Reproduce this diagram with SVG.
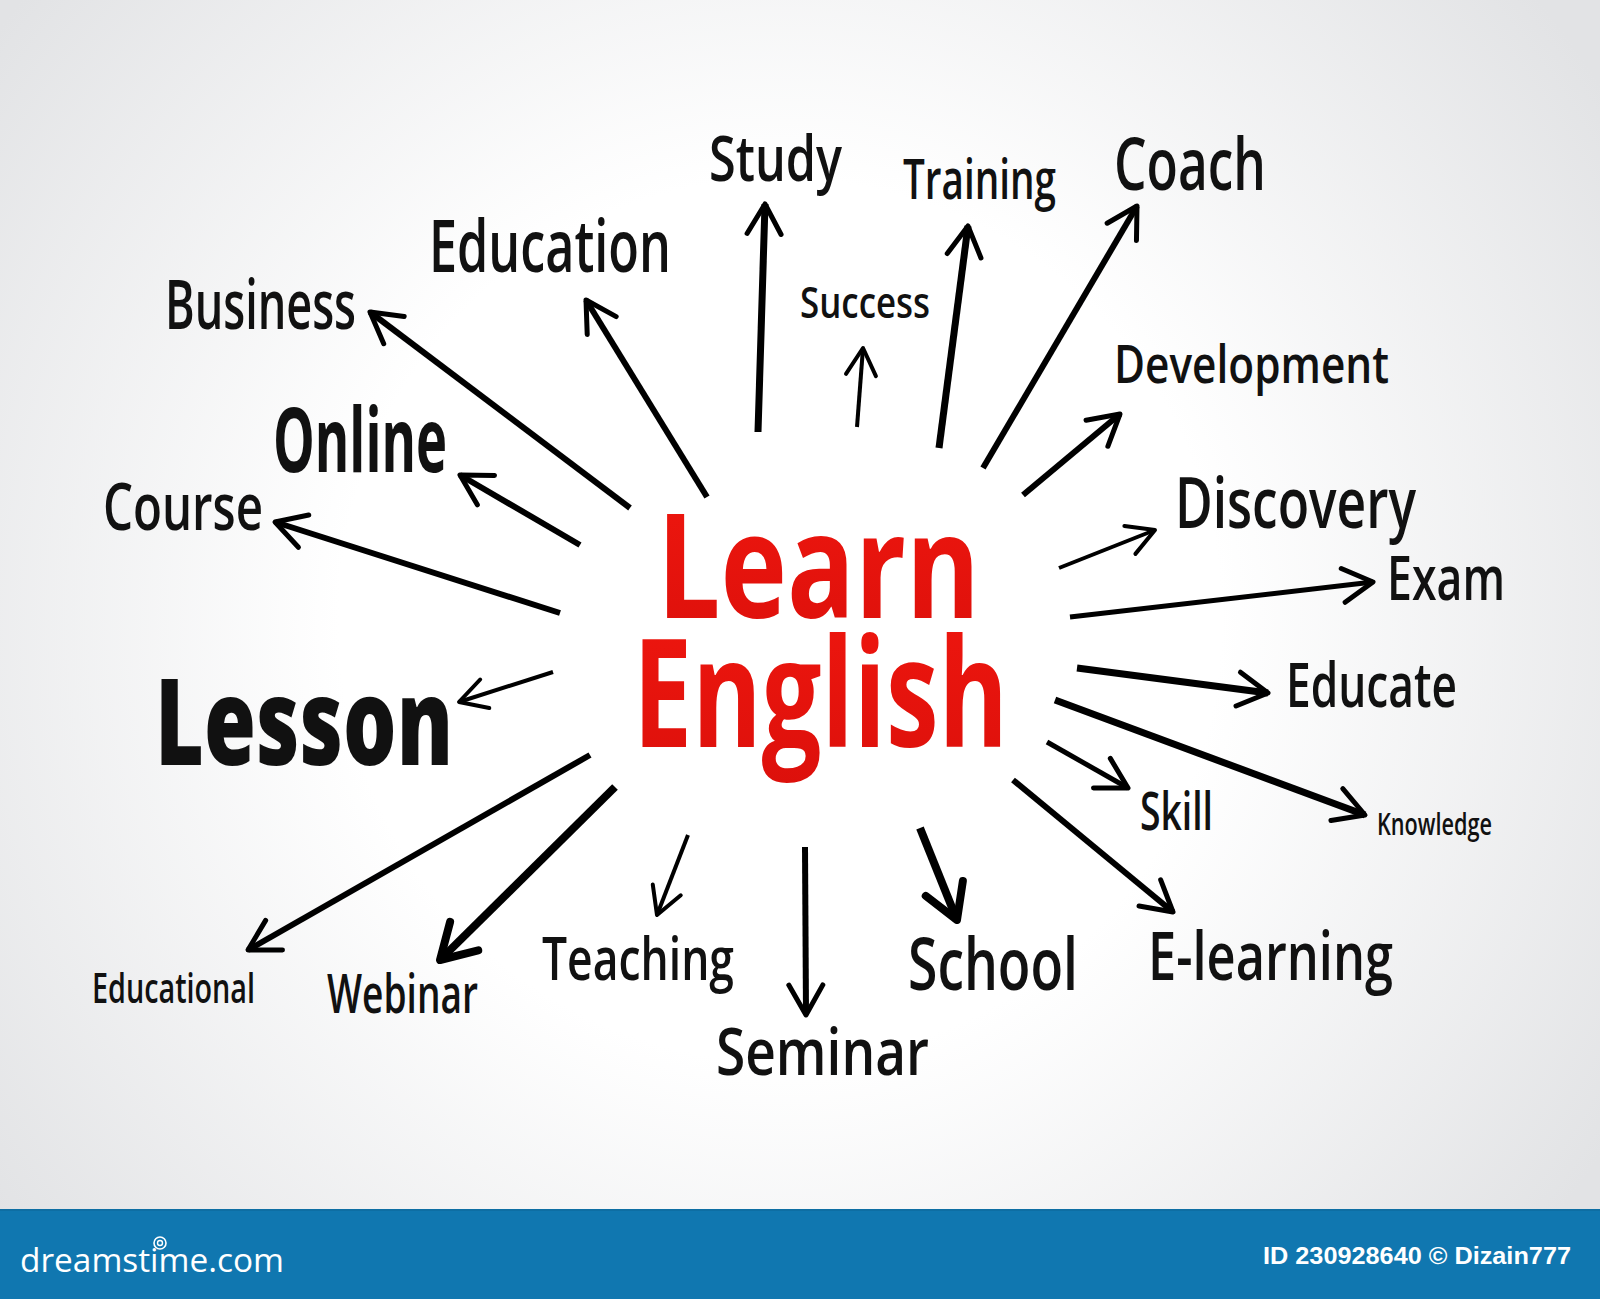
<svg xmlns="http://www.w3.org/2000/svg" width="1600" height="1299" viewBox="0 0 1600 1299">
  <defs>
    <radialGradient id="bg" cx="780" cy="620" r="980" gradientUnits="userSpaceOnUse">
      <stop offset="0" stop-color="#ffffff"/>
      <stop offset="0.45" stop-color="#ffffff"/>
      <stop offset="1" stop-color="#e2e3e5"/>
    </radialGradient>
    <linearGradient id="red" x1="0" y1="0" x2="0" y2="1">
      <stop offset="0" stop-color="#f0170f"/>
      <stop offset="1" stop-color="#dc100b"/>
    </linearGradient>
    <marker id="ah" markerUnits="userSpaceOnUse" orient="auto" refX="0" refY="0" markerWidth="80" markerHeight="80" viewBox="-40 -40 80 80" overflow="visible">
      <path d="M-30,-17 L0,0 L-30,17" fill="none" stroke="#000" stroke-width="5" stroke-linecap="round" stroke-linejoin="round"/>
    </marker>
    <marker id="ahs" markerUnits="userSpaceOnUse" orient="auto" refX="0" refY="0" markerWidth="80" markerHeight="80" viewBox="-40 -40 80 80" overflow="visible">
      <path d="M-27,-15 L0,0 L-27,15" fill="none" stroke="#000" stroke-width="4" stroke-linecap="round" stroke-linejoin="round"/>
    </marker>
    <marker id="ahb" markerUnits="userSpaceOnUse" orient="auto" refX="0" refY="0" markerWidth="80" markerHeight="80" viewBox="-40 -40 80 80" overflow="visible">
      <path d="M-34,-20 L0,0 L-34,20" fill="none" stroke="#000" stroke-width="8" stroke-linecap="round" stroke-linejoin="round"/>
    </marker>
  </defs>
  <style>
    .lbl { font-family: "Open Sans", "DejaVu Sans", sans-serif; font-weight: 600; fill: #111; }
    .heavy { font-weight: 700; }
    .red { font-family: "Open Sans", "DejaVu Sans", sans-serif; font-weight: 700; fill: url(#red); }
    .c { fill: none; stroke: #000; stroke-linecap: butt; marker-end: url(#ah); }
    .w4 { stroke-width: 4; marker-end: url(#ahs); }
    .w5 { stroke-width: 5; }
    .w6 { stroke-width: 6; }
    .w7 { stroke-width: 7; }
    .w8 { stroke-width: 8; marker-end: url(#ahb); }
    .bar { font-family: "Open Sans", "DejaVu Sans", sans-serif; fill: #fff; }
  </style>

  <rect x="0" y="0" width="1600" height="1210" fill="url(#bg)"/>

  <g id="connectors">
    <line class="c w7" x1="758" y1="432" x2="765" y2="204"/>
    <line class="c w4" x1="857" y1="427" x2="863" y2="348"/>
    <line class="c w7" x1="939" y1="448" x2="968" y2="226"/>
    <line class="c w6" x1="983" y1="468" x2="1137" y2="206"/>
    <line class="c w6" x1="1023" y1="495" x2="1120" y2="414"/>
    <line class="c w4" x1="1059" y1="568" x2="1155" y2="530"/>
    <line class="c w5" x1="1070" y1="617" x2="1373" y2="582"/>
    <line class="c w7" x1="1077" y1="668" x2="1268" y2="693"/>
    <line class="c w7" x1="1055" y1="700" x2="1365" y2="815"/>
    <line class="c w5" x1="1047" y1="742" x2="1128" y2="788"/>
    <line class="c w6" x1="1013" y1="780" x2="1173" y2="912"/>
    <line class="c w8" x1="920" y1="828" x2="957" y2="920"/>
    <line class="c w6" x1="805" y1="847" x2="806" y2="1015"/>
    <line class="c w4" x1="688" y1="835" x2="657" y2="915"/>
    <line class="c w8" x1="615" y1="787" x2="440" y2="960"/>
    <line class="c w6" x1="590" y1="755" x2="248" y2="950"/>
    <line class="c w4" x1="553" y1="672" x2="459" y2="702"/>
    <line class="c w6" x1="560" y1="613" x2="275" y2="522"/>
    <line class="c w6" x1="580" y1="545" x2="460" y2="475"/>
    <line class="c w6" x1="630" y1="508" x2="370" y2="312"/>
    <line class="c w6" x1="707" y1="497" x2="586" y2="300"/>
  </g>

  <g id="node-center">
    <text class="red" x="657" y="618" font-size="146" textLength="323" lengthAdjust="spacingAndGlyphs">Learn</text>
    <text class="red" x="633" y="747" font-size="150" textLength="375" lengthAdjust="spacingAndGlyphs">English</text>
  </g>

  <g id="node-study"><text class="lbl" x="709" y="181" font-size="64" textLength="133" lengthAdjust="spacingAndGlyphs">Study</text></g>
  <g id="node-training"><text class="lbl" x="903" y="199" font-size="56" textLength="153" lengthAdjust="spacingAndGlyphs">Training</text></g>
  <g id="node-coach"><text class="lbl" x="1114" y="190" font-size="72" textLength="152" lengthAdjust="spacingAndGlyphs">Coach</text></g>
  <g id="node-education"><text class="lbl" x="429" y="272" font-size="72" textLength="242" lengthAdjust="spacingAndGlyphs">Education</text></g>
  <g id="node-business"><text class="lbl" x="165" y="329" font-size="68" textLength="191" lengthAdjust="spacingAndGlyphs">Business</text></g>
  <g id="node-success"><text class="lbl" x="800" y="318" font-size="43" textLength="130" lengthAdjust="spacingAndGlyphs">Success</text></g>
  <g id="node-development"><text class="lbl" x="1114" y="383" font-size="52" textLength="275" lengthAdjust="spacingAndGlyphs">Development</text></g>
  <g id="node-online"><text class="lbl heavy" x="273" y="472" font-size="90" textLength="174" lengthAdjust="spacingAndGlyphs">Online</text></g>
  <g id="node-course"><text class="lbl" x="103" y="530" font-size="66" textLength="160" lengthAdjust="spacingAndGlyphs">Course</text></g>
  <g id="node-discovery"><text class="lbl" x="1175" y="528" font-size="70" textLength="241" lengthAdjust="spacingAndGlyphs">Discovery</text></g>
  <g id="node-exam"><text class="lbl" x="1387" y="600" font-size="62" textLength="118" lengthAdjust="spacingAndGlyphs">Exam</text></g>
  <g id="node-lesson"><text class="lbl" style="font-weight:800" x="155" y="765" font-size="120" textLength="298" lengthAdjust="spacingAndGlyphs">Lesson</text></g>
  <g id="node-educate"><text class="lbl" x="1286" y="707" font-size="61" textLength="171" lengthAdjust="spacingAndGlyphs">Educate</text></g>
  <g id="node-skill"><text class="lbl" x="1140" y="830" font-size="52" textLength="73" lengthAdjust="spacingAndGlyphs">Skill</text></g>
  <g id="node-knowledge"><text class="lbl" x="1377" y="835" font-size="30" textLength="115" lengthAdjust="spacingAndGlyphs">Knowledge</text></g>
  <g id="node-educational"><text class="lbl" x="92" y="1003" font-size="41" textLength="163" lengthAdjust="spacingAndGlyphs">Educational</text></g>
  <g id="node-webinar"><text class="lbl" x="327" y="1013" font-size="55" textLength="151" lengthAdjust="spacingAndGlyphs">Webinar</text></g>
  <g id="node-teaching"><text class="lbl" x="542" y="980" font-size="60" textLength="192" lengthAdjust="spacingAndGlyphs">Teaching</text></g>
  <g id="node-school"><text class="lbl" x="908" y="990" font-size="73" textLength="170" lengthAdjust="spacingAndGlyphs">School</text></g>
  <g id="node-seminar"><text class="lbl" x="716" y="1075" font-size="66" textLength="213" lengthAdjust="spacingAndGlyphs">Seminar</text></g>
  <g id="node-elearning"><text class="lbl" x="1148" y="980" font-size="67" textLength="245" lengthAdjust="spacingAndGlyphs">E-learning</text></g>

  <g id="footer">
    <rect x="0" y="1209" width="1600" height="90" fill="#1077b0"/>
    <rect x="0" y="1209" width="1600" height="2" fill="#0e6ea3"/>
    <circle cx="160" cy="1243" r="6" fill="none" stroke="#fff" stroke-width="1.6"/>
    <circle cx="160" cy="1243" r="2.5" fill="none" stroke="#fff" stroke-width="1.4"/>
    <text class="bar" x="20" y="1272" font-size="32" textLength="264" lengthAdjust="spacingAndGlyphs">dreamstime.com</text>
    <text class="bar" style="font-family:'Liberation Sans', Arial, sans-serif; font-weight:700" x="1263" y="1264" font-size="23" textLength="308" lengthAdjust="spacingAndGlyphs">ID 230928640 © Dizain777</text>
  </g>
</svg>
